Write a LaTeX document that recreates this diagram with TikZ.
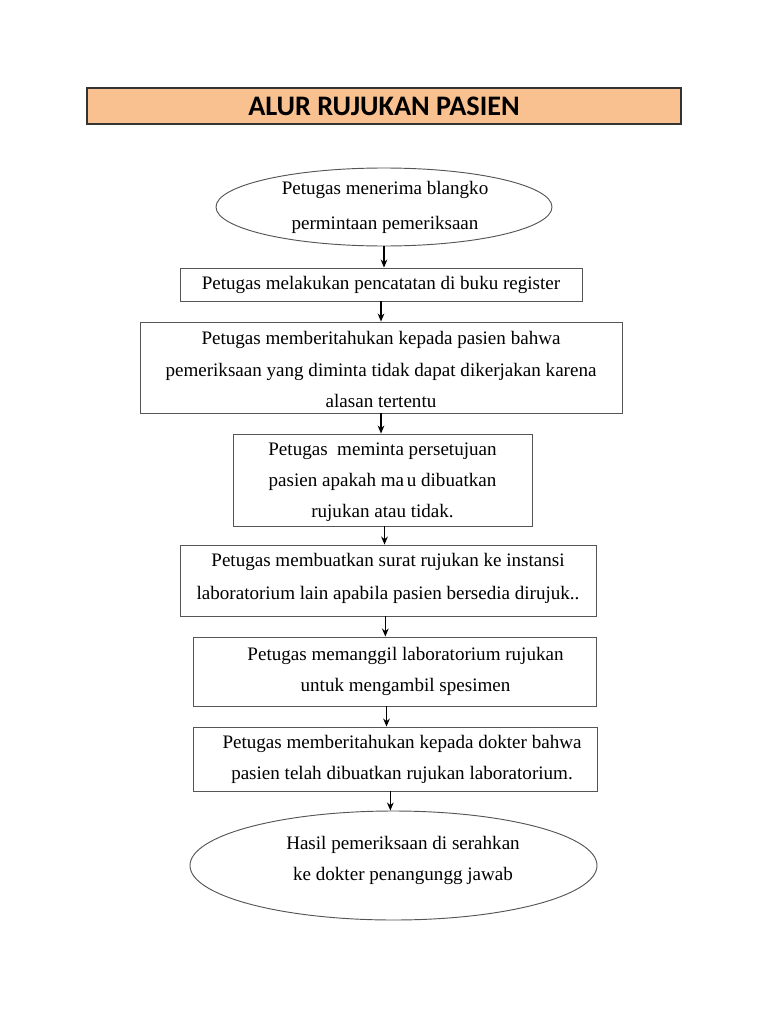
\documentclass[tikz,border=0pt]{standalone}
\usepackage{fontspec}
\setmainfont{Liberation Serif}
\newfontfamily\titlefont{Carlito}
\usetikzlibrary{shapes.geometric,arrows.meta}
\definecolor{peach}{HTML}{F9C18F}
\definecolor{edge}{HTML}{555555}
\newcommand\bodyfont{\fontsize{14.3}{23.3}\selectfont}
\begin{document}
\begin{tikzpicture}[x=0.75pt,y=-0.75pt,
  box/.style={draw=edge,line width=0.7pt,rectangle,inner sep=0pt,align=center,font=\bodyfont},
  oval/.style={draw=edge,line width=0.7pt,ellipse,inner sep=0pt,align=center,font=\bodyfont},
  txt/.style={align=center,font=\bodyfont,inner sep=0pt},
  arr/.style={-{Stealth[length=6pt,width=5pt]},line width=0.9pt,black}]
\useasboundingbox (0,0) rectangle (768,1024);
\node[draw=black!80,line width=0.8pt,fill=peach,minimum width={594*0.75pt},minimum height={36*0.75pt},inner sep=0pt,
  font=\titlefont\bfseries\fontsize{21.2}{21}\selectfont] (title) at (384,106) {ALUR RUJUKAN PASIEN};
\node[oval,minimum width={336*0.75pt},minimum height={78*0.75pt}] (e1) at (384,207) {};
\node[txt] (t1) at (385,207.5) {Petugas menerima blangko\\[3pt]permintaan pemeriksaan};
\node[box,minimum width={402*0.75pt},minimum height={33*0.75pt}] (b2) at (381,284.5)
  {Petugas melakukan pencatatan di buku register};
\node[box,minimum width={482*0.75pt},minimum height={91*0.75pt}] (b3) at (381,367.5) {};
\node[txt] (t3) at (381,369.5) {Petugas memberitahukan kepada pasien bahwa\\pemeriksaan yang diminta tidak dapat dikerjakan karena\\alasan tertentu};
\node[box,minimum width={299*0.75pt},minimum height={92*0.75pt}] (b4) at (382.5,480) {};
\node[txt] (t4) at (382.5,482) {Petugas\ \ meminta persetujuan\\pasien apakah ma\hspace{2pt}u dibuatkan\\rujukan atau tidak.};
\node[box,minimum width={416*0.75pt},minimum height={71*0.75pt}] (b5) at (388,580.5) {};
\node[txt] (t5) at (388,578.5) {Petugas membuatkan surat rujukan ke instansi\\[2pt]laboratorium lain apabila pasien bersedia dirujuk..};
\node[box,minimum width={403*0.75pt},minimum height={69*0.75pt}] (b6) at (394.5,671.5) {};
\node[txt] (t6) at (405.5,671) {Petugas memanggil laboratorium rujukan\\untuk mengambil spesimen};
\node[box,minimum width={404*0.75pt},minimum height={64*0.75pt}] (b7) at (395,759) {};
\node[txt] (t7) at (402,759.5) {Petugas memberitahukan kepada dokter bahwa\\pasien telah dibuatkan rujukan laboratorium.};
\node[oval,minimum width={407*0.75pt},minimum height={109*0.75pt}] (e2) at (393.5,865.5) {};
\node[txt] (t8) at (403,860) {Hasil pemeriksaan di serahkan\\ke dokter penangungg jawab};
\draw[arr] (e1.south) -- (e1.south |- b2.north);
\draw[arr] (b2.south) -- (b2.south |- b3.north);
\draw[arr] (b3.south) -- (b3.south |- b4.north);
\draw[arr] ([xshift=1.5pt]b4.south) -- ([xshift=1.5pt]b4.south |- b5.north);
\draw[arr] ([xshift=-2pt]b5.south) -- ([xshift=-2pt]b5.south |- b6.north);
\draw[arr] ([xshift=-6pt]b6.south) -- ([xshift=-6pt]b6.south |- b7.north);
\draw[arr] ([xshift=-3.5pt]b7.south) -- ([xshift=-3.5pt]b7.south |- e2.north);
\end{tikzpicture}
\end{document}
